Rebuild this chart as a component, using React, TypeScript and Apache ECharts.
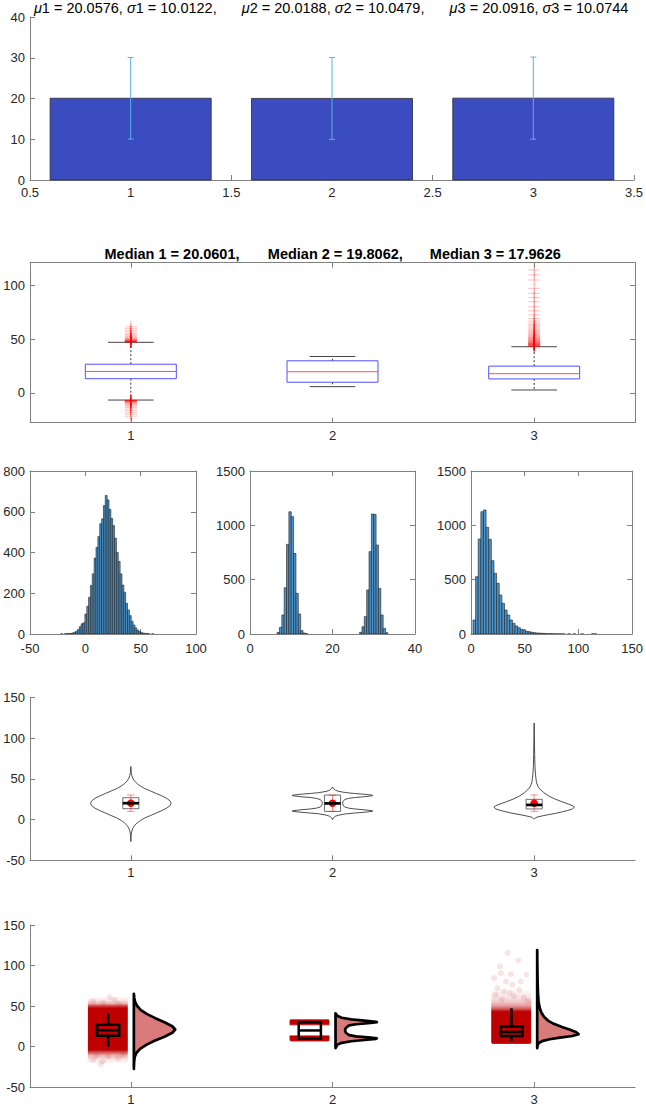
import React, { useEffect, useRef } from 'react';
import * as echarts from 'echarts';

const FONT = '"Liberation Sans", Arial, Helvetica, sans-serif';

// ---------------- data ----------------
const GROUPS = [1, 2, 3];
const MEANS = [20.0576, 20.0188, 20.0916];
const STDS = [10.0122, 10.0479, 10.0744];
const MEDIANS = [20.0601, 19.8062, 17.9626];

// panel 2 : box plot
const BOX_Q1 = [13.3, 10.0, 13.1];
const BOX_Q3 = [26.8, 30.0, 25.0];
const BOX_WHISK_LO = [-6.6, 5.9, 2.8];
const BOX_WHISK_HI = [47.2, 34.0, 43.1];
const OUTLIERS_1 = [47.4, 47.5, 47.6, 47.7, 47.8, 47.9, 48.0, 48.1, 48.2, 48.3, 48.4, 48.6, 48.8, 49.0, 49.2, 49.5, 49.8, 50.2, 50.6, 51.1, 51.8, 52.5, 53.4, 54.5, 55.6, 57.0, 58.4, 60.0, 61.6,
  -6.8, -6.9, -7.0, -7.1, -7.2, -7.4, -7.6, -7.8, -8.0, -8.3, -8.6, -9.0, -9.4, -10.0, -10.7, -11.5, -12.5, -13.6, -15.0, -16.5, -18.3, -20.2, -22.2];
const OUTLIERS_3 = [43.3, 43.5, 43.7, 43.9, 44.1, 44.3, 44.5, 44.7, 44.9, 45.1, 45.3, 45.5, 45.7, 45.9, 46.1, 46.3, 46.6, 46.9, 47.2, 47.5, 47.8, 48.1, 48.4, 48.8, 49.2, 49.6, 50.0, 50.4, 50.8, 51.3, 51.8, 52.3,
  52.9, 53.5, 54.2, 54.9, 55.7, 56.5, 57.4, 58.3, 59.3, 60.4, 61.5, 62.7, 63.9, 65.2, 67.0, 69.4, 72.8, 76.6, 80.3, 85.0, 89.0, 92.8, 97.5, 105.3, 110.0, 114.7];

// panel 3 : histograms
const HIST1_START = -22.2;
const HIST1_WIDTH = 1.676;
const HIST1_COUNTS = [1, 0, 1, 2, 2, 3, 5, 9, 13, 22, 36, 50, 55, 98, 136, 180, 238, 295, 372, 425, 478, 541, 565, 630, 680, 658, 612, 567, 532, 470, 400, 356, 295, 240, 205, 150, 118, 90, 62, 44, 30, 19, 12, 8, 4, 3, 2, 1, 0, 1];
const HIST2_START = 6.57;
const HIST2_WIDTH = 0.5714;
const HIST2_COUNTS = [15, 61, 175, 426, 825, 1125, 1080, 742, 374, 184, 31, 9, 3,
  0, 0, 0, 0, 0, 0, 0, 0, 0, 0, 0, 0, 0, 0, 0, 0, 0, 0, 0, 0, 0, 0,
  15, 67, 160, 405, 758, 1104, 1101, 819, 420, 175, 52, 12];
const HIST3_START = 1.8;
const HIST3_WIDTH = 2.45;
const HIST3_COUNTS = [129, 527, 874, 1125, 1141, 981, 871, 675, 558, 466, 359, 282, 221, 175, 129, 98, 74, 58, 43, 37, 25, 21, 15, 12, 9, 8, 6, 5, 3, 3, 2, 2, 1, 1, 1, 0, 1, 0, 1, 0, 0, 1, 0, 0, 0, 1, 1];

// panel 4 : violins  [value, relative half width]
const VIOLIN_1 = [[65, 0], [62, 0.004], [58, 0.01], [54, 0.025], [50, 0.056], [47, 0.097], [44, 0.16], [41, 0.24], [38, 0.35], [35, 0.49], [32, 0.63], [29, 0.77], [26, 0.89], [23, 0.97], [20, 1.0],
  [17, 0.97], [14, 0.89], [11, 0.77], [8, 0.63], [5, 0.49], [2, 0.35], [-1, 0.24], [-4, 0.16], [-7, 0.097], [-10, 0.056], [-14, 0.025], [-18, 0.01], [-22, 0.004], [-27, 0]];
const VIOLIN_2 = [[40, 0], [38, 0.02], [36, 0.07], [34.5, 0.16], [33, 0.34], [32, 0.55], [31, 0.8], [30, 0.98], [29.5, 1.0], [29, 0.96], [28, 0.78], [27, 0.55], [26, 0.4], [24.5, 0.3], [22, 0.26], [20, 0.25],
  [18, 0.26], [15.5, 0.3], [14, 0.4], [13, 0.55], [12, 0.78], [11, 0.96], [10.5, 1.0], [10, 0.98], [9, 0.8], [8, 0.55], [7, 0.34], [5.5, 0.16], [4, 0.07], [2, 0.02], [0, 0]];
const VIOLIN_3 = [[118.5, 0], [100, 0.006], [80, 0.012], [65, 0.02], [57, 0.03], [50, 0.045], [45, 0.06], [40, 0.1], [36.5, 0.16], [33, 0.24], [29, 0.36], [25.5, 0.5], [22, 0.68], [19, 0.85], [17, 0.95], [15.2, 1.0],
  [13, 0.95], [11, 0.82], [9.5, 0.7], [7.8, 0.55], [6, 0.35], [4.5, 0.2], [3, 0.07], [1.5, 0.02], [0.5, 0]];
const VIOLIN_Q1 = [13.3, 10.0, 13.0];
const VIOLIN_Q3 = [26.8, 30.0, 24.8];

// panel 5 : raincloud
const RAIN_1 = [[65, 0], [60, 0.01], [55, 0.03], [50, 0.08], [45, 0.17], [40, 0.32], [35, 0.52], [30, 0.74], [25, 0.93], [21, 1.0], [17, 0.93], [12, 0.74], [7, 0.5], [2, 0.3], [-3, 0.15], [-8, 0.06], [-13, 0.02], [-20, 0.005], [-27.6, 0]];
const RAIN_2 = [[41, 0], [38, 0.04], [35.5, 0.15], [33.5, 0.38], [32, 0.7], [30.5, 0.98], [30, 1.0], [29, 0.85], [27.5, 0.5], [26, 0.33], [23, 0.25], [20, 0.23], [17, 0.25], [14, 0.33], [12.5, 0.5], [11, 0.85],
  [10, 1.0], [9.5, 0.98], [8, 0.7], [6.5, 0.38], [4.5, 0.15], [2, 0.04], [-2, 0]];
const RAIN_3 = [[119, 0], [100, 0.004], [80, 0.01], [65, 0.02], [55, 0.035], [48, 0.06], [42, 0.1], [37, 0.16], [32, 0.26], [28, 0.4], [24, 0.6], [21, 0.78], [18, 0.93], [15.3, 1.0], [13, 0.85], [11, 0.55], [9, 0.3],
  [7, 0.14], [5, 0.06], [3, 0.02], [0, 0.005], [-2, 0]];
const RAIN_Q1 = [13.3, 10.0, 13.0];
const RAIN_Q3 = [26.8, 30.0, 24.6];
const RAIN_LO = [-0.5, 8.2, 6.8];
const RAIN_HI = [40.6, 31.8, 47.1];
// cloud density: [value, opacity]
const CLOUD_1 = [[62, 0], [57, 0.1], [53, 0.3], [50, 0.75], [47, 1], [-4, 1], [-7, 0.7], [-11, 0.3], [-16, 0.1], [-22, 0]];
const CLOUD_2 = [[34.5, 0], [33.5, 0.6], [32.5, 1], [27.5, 1], [26.5, 0.6], [25.5, 0], [14.5, 0], [13.5, 0.6], [12.5, 1], [7.5, 1], [6.5, 0.6], [5.5, 0]];
const CLOUD_3 = [[72, 0], [66, 0.06], [60, 0.12], [55, 0.22], [50, 0.4], [46, 0.7], [43, 1], [4, 1], [3, 0.6], [2.5, 0]];
// sparse jittered points [offset from group, value]
const SPARSE_1 = [[-0.104, 61], [-0.08, 57.7], [-0.187, 55.6], [-0.137, 53.5], [-0.06, 52.6], [-0.187, -16.4], [-0.138, -18.5], [-0.063, -14.3], [-0.112, -12.3], [-0.17, -11], [-0.04, -10.5], [-0.15, -21.5]];
const SPARSE_3 = [[-0.132, 115.3], [-0.169, 98.8], [-0.078, 106.2], [-0.165, 90.5], [-0.116, 89.3], [-0.038, 88.5], [-0.14, 80.3], [-0.108, 76.2], [-0.198, 84.4], [-0.066, 80.3], [-0.182, 72.1], [-0.074, 70],
  [-0.149, 67.9], [-0.19, 64], [-0.1, 62.5], [-0.05, 60], [-0.16, 58], [-0.12, 66], [-0.03, 56]];

// ---------------- style / layout ----------------
const AXIS_COLOR = '#808080';
const LABEL_COLOR = '#262626';

function makeAxis(gridIndex: number, position: string, min: number, max: number, cfg: any = {}) {
  const ax: any = {
    type: 'value', gridIndex, position, min, max,
    axisLine: { show: true, onZero: false, lineStyle: { color: AXIS_COLOR, width: 1 } },
    axisTick: { show: true, inside: true, length: 5, lineStyle: { color: AXIS_COLOR, width: 1 } },
    axisLabel: {
      show: cfg.showLabel !== false, color: LABEL_COLOR, fontSize: 13, fontFamily: FONT,
      margin: cfg.margin ?? 6, showMinLabel: true, showMaxLabel: true,
      formatter: (v: number) => String(Math.round(v * 1000) / 1000),
    },
    splitLine: { show: false },
  };
  if (cfg.interval != null) ax.interval = cfg.interval;
  if (cfg.ticks) {
    ax.axisLabel.customValues = cfg.ticks;
    ax.axisTick.customValues = cfg.ticks;
  }
  return ax;
}

function profilePoints(api: any, prof: number[][], base: number, w: number, sign: number) {
  return prof.map(([v, f]) => api.coord([base + sign * f * w, v]));
}

function gradientFromStops(stops: number[][], rgb: string) {
  const top = stops[0][0];
  const bot = stops[stops.length - 1][0];
  return new echarts.graphic.LinearGradient(0, 0, 0, 1,
    stops.map(([v, a]) => ({ offset: (top - v) / (top - bot), color: `rgba(${rgb},${a})` })));
}

function histSeries(xi: number, yi: number, start: number, width: number, counts: number[]) {
  return {
    type: 'custom', xAxisIndex: xi, yAxisIndex: yi, clip: true,
    data: counts.map((c, k) => [start + k * width, c]),
    renderItem: (params: any, api: any) => {
      const k = params.dataIndex;
      const c = counts[k];
      if (!c) return null;
      const x = start + k * width;
      const p0 = api.coord([x, c]);
      const p1 = api.coord([x + width, 0]);
      return {
        type: 'rect',
        shape: { x: p0[0], y: p0[1], width: p1[0] - p0[0], height: p1[1] - p0[1] },
        style: { fill: '#4b94cc', stroke: '#1e1e1e', lineWidth: 0.6 },
      };
    },
  };
}

function buildOption() {
  const grids = [
    { left: 30, top: 17, width: 605, height: 163 },
    { left: 30, top: 262.7, width: 605, height: 160 },
    { left: 30, top: 471, width: 166, height: 163 },
    { left: 250, top: 471, width: 165, height: 163 },
    { left: 471, top: 471, width: 164, height: 163 },
    { left: 30, top: 697.3, width: 605, height: 163 },
    { left: 30, top: 925, width: 605, height: 162 },
  ];

  const xAxes = [
    makeAxis(0, 'bottom', 0.5, 3.5, { interval: 0.5 }),
    makeAxis(1, 'bottom', 0.5, 3.5, { ticks: GROUPS }),
    makeAxis(1, 'top', 0.5, 3.5, { ticks: GROUPS, showLabel: false }),
    makeAxis(2, 'bottom', -50, 100, { interval: 50, margin: 8 }),
    makeAxis(2, 'top', -50, 100, { interval: 50, showLabel: false }),
    makeAxis(3, 'bottom', 0, 40, { interval: 20, margin: 8 }),
    makeAxis(3, 'top', 0, 40, { interval: 20, showLabel: false }),
    makeAxis(4, 'bottom', 0, 150, { interval: 50, margin: 8 }),
    makeAxis(4, 'top', 0, 150, { interval: 50, showLabel: false }),
    makeAxis(5, 'bottom', 0.5, 3.5, { ticks: GROUPS }),
    makeAxis(6, 'bottom', 0.5, 3.5, { ticks: GROUPS }),
  ];
  const yAxes = [
    makeAxis(0, 'left', 0, 40, { interval: 10, margin: 5 }),
    makeAxis(1, 'left', -27.7, 121.4, { ticks: [0, 50, 100], margin: 5 }),
    makeAxis(1, 'right', -27.7, 121.4, { ticks: [0, 50, 100], showLabel: false }),
    makeAxis(2, 'left', 0, 800, { interval: 200, margin: 5 }),
    makeAxis(2, 'right', 0, 800, { interval: 200, showLabel: false }),
    makeAxis(3, 'left', 0, 1500, { interval: 500, margin: 5 }),
    makeAxis(3, 'right', 0, 1500, { interval: 500, showLabel: false }),
    makeAxis(4, 'left', 0, 1500, { interval: 500, margin: 5 }),
    makeAxis(4, 'right', 0, 1500, { interval: 500, showLabel: false }),
    makeAxis(5, 'left', -50, 150, { interval: 50, margin: 5 }),
    makeAxis(6, 'left', -50, 150, { interval: 50, margin: 5 }),
  ];

  const series: any[] = [];

  // ---- panel 1: bars + error bars
  series.push({
    type: 'custom', xAxisIndex: 0, yAxisIndex: 0,
    data: GROUPS.map((g, i) => [g, MEANS[i]]),
    renderItem: (params: any, api: any) => {
      const i = params.dataIndex, g = GROUPS[i];
      const p0 = api.coord([g - 0.4, MEANS[i]]);
      const p1 = api.coord([g + 0.4, 0]);
      return {
        type: 'rect', shape: { x: p0[0], y: p0[1], width: p1[0] - p0[0], height: p1[1] - p0[1] },
        style: { fill: '#3b4cc0', stroke: '#2a2a2a', lineWidth: 0.8 },
      };
    },
  });
  series.push({
    type: 'custom', xAxisIndex: 0, yAxisIndex: 0,
    data: GROUPS.map((g, i) => [g, MEANS[i]]),
    renderItem: (params: any, api: any) => {
      const i = params.dataIndex, g = GROUPS[i];
      const hi = api.coord([g, MEANS[i] + STDS[i]]);
      const lo = api.coord([g, MEANS[i] - STDS[i]]);
      const st = { stroke: '#5ab0e6', lineWidth: 1 };
      return {
        type: 'group', children: [
          { type: 'line', shape: { x1: hi[0], y1: hi[1], x2: lo[0], y2: lo[1] }, style: st },
          { type: 'line', shape: { x1: hi[0] - 3, y1: hi[1], x2: hi[0] + 3, y2: hi[1] }, style: st },
          { type: 'line', shape: { x1: lo[0] - 3, y1: lo[1], x2: lo[0] + 3, y2: lo[1] }, style: st },
        ],
      };
    },
  });

  // ---- panel 2: box plot
  series.push({
    type: 'custom', xAxisIndex: 1, yAxisIndex: 1,
    data: GROUPS.map((g, i) => [g, MEDIANS[i]]),
    renderItem: (params: any, api: any) => {
      const i = params.dataIndex, g = GROUPS[i];
      const a = api.coord([g - 0.2255, BOX_Q3[i]]);
      const b = api.coord([g + 0.2255, BOX_Q1[i]]);
      const m = api.coord([g, MEDIANS[i]]);
      const hi = api.coord([g, BOX_WHISK_HI[i]]);
      const lo = api.coord([g, BOX_WHISK_LO[i]]);
      const cl = api.coord([g - 0.113, 0])[0];
      const cr = api.coord([g + 0.113, 0])[0];
      const dash = { stroke: '#333', lineWidth: 1, lineDash: [2, 2] };
      const cap = { stroke: '#444', lineWidth: 1 };
      return {
        type: 'group', children: [
          { type: 'line', shape: { x1: m[0], y1: a[1], x2: m[0], y2: hi[1] }, style: dash },
          { type: 'line', shape: { x1: m[0], y1: b[1], x2: m[0], y2: lo[1] }, style: dash },
          { type: 'line', shape: { x1: cl, y1: hi[1], x2: cr, y2: hi[1] }, style: cap },
          { type: 'line', shape: { x1: cl, y1: lo[1], x2: cr, y2: lo[1] }, style: cap },
          { type: 'rect', shape: { x: a[0], y: a[1], width: b[0] - a[0], height: b[1] - a[1] }, style: { fill: 'none', stroke: '#5050ff', lineWidth: 1 } },
          { type: 'line', shape: { x1: a[0], y1: m[1], x2: b[0], y2: m[1] }, style: { stroke: '#ff5050', lineWidth: 1 } },
        ],
      };
    },
  });
  series.push({
    type: 'custom', xAxisIndex: 1, yAxisIndex: 1,
    data: OUTLIERS_1.map((v) => [1, v]).concat(OUTLIERS_3.map((v) => [3, v])),
    renderItem: (params: any, api: any) => {
      const p = api.coord([api.value(0), api.value(1)]);
      const st = { stroke: 'rgba(255,0,0,0.24)', lineWidth: 1 };
      return {
        type: 'group', children: [
          { type: 'line', shape: { x1: p[0] - 6, y1: p[1], x2: p[0] + 6, y2: p[1] }, style: st },
          { type: 'line', shape: { x1: p[0], y1: p[1] - 6, x2: p[0], y2: p[1] + 6 }, style: st },
        ],
      };
    },
  });

  // ---- panel 3: histograms
  series.push(histSeries(3, 3, HIST1_START, HIST1_WIDTH, HIST1_COUNTS));
  series.push(histSeries(5, 5, HIST2_START, HIST2_WIDTH, HIST2_COUNTS));
  series.push(histSeries(7, 7, HIST3_START, HIST3_WIDTH, HIST3_COUNTS));

  // ---- panel 4: violins
  const VIOLINS = [VIOLIN_1, VIOLIN_2, VIOLIN_3];
  series.push({
    type: 'custom', xAxisIndex: 9, yAxisIndex: 9,
    data: GROUPS.map((g, i) => [g, MEDIANS[i]]),
    renderItem: (params: any, api: any) => {
      const i = params.dataIndex, g = GROUPS[i];
      const prof = VIOLINS[i];
      const right = profilePoints(api, prof, g, 0.2, 1);
      const left = profilePoints(api, prof.slice().reverse(), g, 0.2, -1);
      const a = api.coord([g - 0.04, VIOLIN_Q3[i]]);
      const b = api.coord([g + 0.04, VIOLIN_Q1[i]]);
      const m = api.coord([g, MEDIANS[i]]);
      const mu = api.coord([g, MEANS[i]]);
      const hi = api.coord([g, MEANS[i] + STDS[i]]);
      const lo = api.coord([g, MEANS[i] - STDS[i]]);
      const red = { stroke: 'rgba(255,0,0,0.45)', lineWidth: 1 };
      return {
        type: 'group', children: [
          { type: 'polygon', shape: { points: right.concat(left) }, style: { fill: 'none', stroke: '#3a3a3a', lineWidth: 0.9 } },
          { type: 'rect', shape: { x: a[0], y: a[1], width: b[0] - a[0], height: b[1] - a[1] }, style: { fill: 'none', stroke: '#6e6e6e', lineWidth: 1 } },
          { type: 'line', shape: { x1: mu[0], y1: hi[1], x2: mu[0], y2: lo[1] }, style: red },
          { type: 'line', shape: { x1: mu[0] - 3.7, y1: hi[1], x2: mu[0] + 3.7, y2: hi[1] }, style: red },
          { type: 'line', shape: { x1: mu[0] - 3.7, y1: lo[1], x2: mu[0] + 3.7, y2: lo[1] }, style: red },
          { type: 'circle', shape: { cx: mu[0], cy: mu[1], r: 3.8 }, style: { fill: '#ff0000' } },
          { type: 'line', shape: { x1: a[0], y1: m[1], x2: b[0], y2: m[1] }, style: { stroke: '#000', lineWidth: 2.7 } },
        ],
      };
    },
  });

  // ---- panel 5: raincloud
  const RAINS = [RAIN_1, RAIN_2, RAIN_3];
  const CLOUDS = [CLOUD_1, CLOUD_2, CLOUD_3];
  series.push({
    type: 'custom', xAxisIndex: 10, yAxisIndex: 10,
    data: GROUPS.map((g, i) => [g, MEDIANS[i]]),
    renderItem: (params: any, api: any) => {
      const i = params.dataIndex, g = GROUPS[i];
      const cloud = CLOUDS[i];
      const c0 = api.coord([g - 0.213, cloud[0][0]]);
      const c1 = api.coord([g - 0.015, cloud[cloud.length - 1][0]]);
      const bc = g - 0.1125;
      const a = api.coord([bc - 0.055, RAIN_Q3[i]]);
      const b = api.coord([bc + 0.055, RAIN_Q1[i]]);
      const m = api.coord([bc, MEDIANS[i]]);
      const hi = api.coord([bc, RAIN_HI[i]]);
      const lo = api.coord([bc, RAIN_LO[i]]);
      const pts = profilePoints(api, RAINS[i], g + 0.015, 0.205, 1);
      const blk = { stroke: '#000', lineWidth: 2.5 };
      return {
        type: 'group', children: [
          { type: 'rect', shape: { x: c0[0], y: c0[1], width: c1[0] - c0[0], height: c1[1] - c0[1], r: 3 }, style: { fill: gradientFromStops(cloud, '190,0,0') } },
          { type: 'line', shape: { x1: m[0], y1: a[1], x2: m[0], y2: hi[1] }, style: blk },
          { type: 'line', shape: { x1: m[0], y1: b[1], x2: m[0], y2: lo[1] }, style: blk },
          { type: 'rect', shape: { x: a[0], y: a[1], width: b[0] - a[0], height: b[1] - a[1] }, style: { fill: 'none', stroke: '#000', lineWidth: 2.5 } },
          { type: 'line', shape: { x1: a[0], y1: m[1], x2: b[0], y2: m[1] }, style: blk },
          { type: 'polygon', shape: { points: pts }, style: { fill: '#d97b7b', stroke: '#000', lineWidth: 2.7, lineJoin: 'round' } },
        ],
      };
    },
  });
  series.push({
    type: 'scatter', xAxisIndex: 10, yAxisIndex: 10, symbolSize: 6,
    itemStyle: { color: 'rgba(190,0,0,0.13)' },
    data: SPARSE_1.map(([d, v]) => [GROUPS[0] + d, v]).concat(SPARSE_3.map(([d, v]) => [GROUPS[2] + d, v])),
  });

  const muTitle = GROUPS.map((g, i) =>
    `{i|μ}${g} = ${MEANS[i].toFixed(4)}, {i|σ}${g} = ${STDS[i].toFixed(4)}${i < 2 ? ',' : ''}`);
  const muX = [33.9, 241.7, 449.6];
  const medTitle = GROUPS.map((g, i) => `Median ${g} = ${MEDIANS[i].toFixed(4)}${i < 2 ? ',' : ''}`);
  const medX = [104.5, 267.8, 429.8];

  const graphic: any[] = [];
  muTitle.forEach((t, i) => graphic.push({
    type: 'text', x: muX[i], y: 8.3,
    style: {
      text: t, fill: '#000', fontSize: 14.5, fontFamily: FONT, align: 'left', verticalAlign: 'middle',
      rich: { i: { fontStyle: 'italic', fontSize: 14.5, fontFamily: FONT, fill: '#000' } },
    },
  }));
  medTitle.forEach((t, i) => graphic.push({
    type: 'text', x: medX[i], y: 254,
    style: { text: t, fill: '#000', fontSize: 14.5, fontWeight: 'bold', fontFamily: FONT, align: 'left', verticalAlign: 'middle' },
  }));

  return {
    animation: false,
    backgroundColor: '#ffffff',
    grid: grids,
    xAxis: xAxes,
    yAxis: yAxes,
    series,
    graphic,
  };
}

export default function App() {
  const ref = useRef<HTMLDivElement>(null);
  useEffect(() => {
    const chart = echarts.init(ref.current as HTMLDivElement, null, { renderer: 'svg' });
    chart.setOption(buildOption() as any);
    return () => chart.dispose();
  }, []);
  return <div ref={ref} style={{ position: 'absolute', left: 0, top: 0, width: 646, height: 1108, background: '#fff' }} />;
}
